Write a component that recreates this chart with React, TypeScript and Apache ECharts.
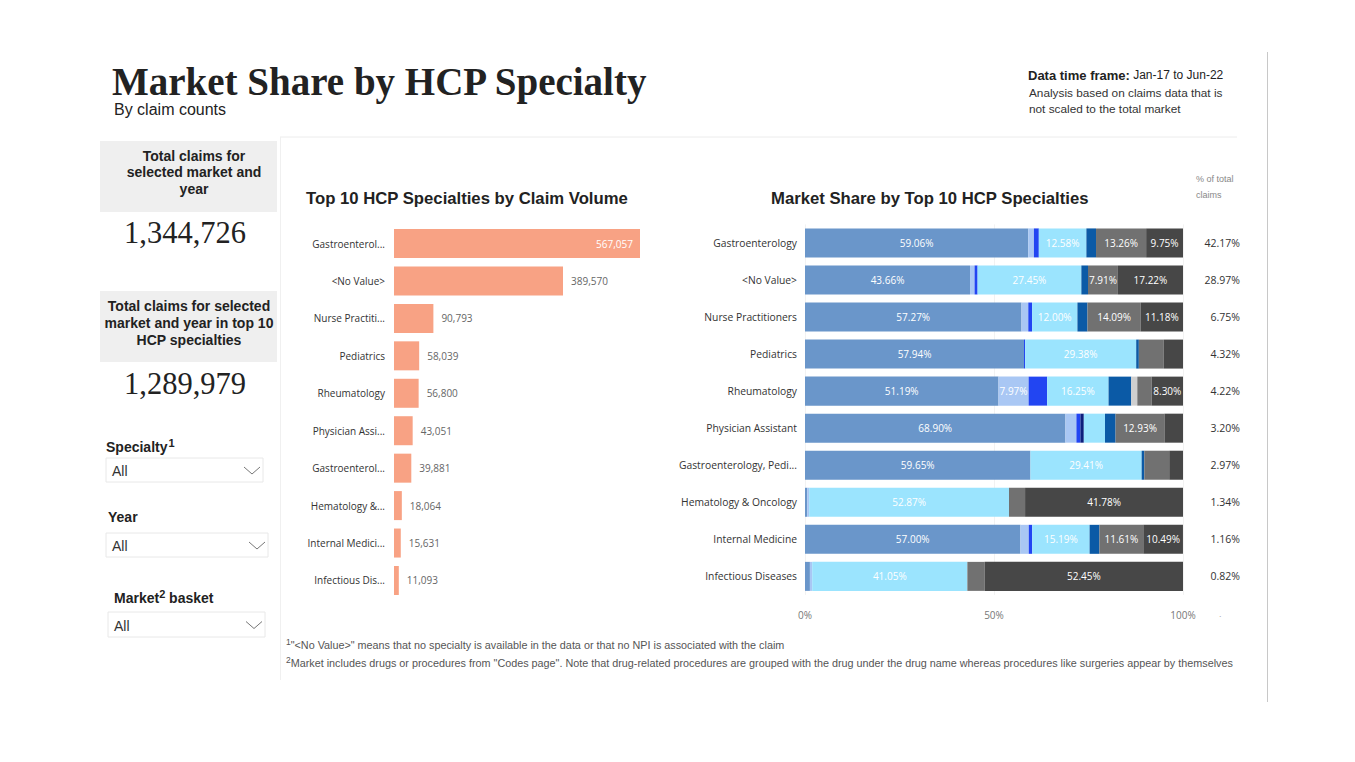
import React, { useEffect, useRef } from "react";
import * as echarts from "echarts";

const categories = [
  "Gastroenterology",
  "<No Value>",
  "Nurse Practitioners",
  "Pediatrics",
  "Rheumatology",
  "Physician Assistant",
  "Gastroenterology, Pedi...",
  "Hematology & Oncology",
  "Internal Medicine",
  "Infectious Diseases",
];
const shortLabels = [
  "Gastroenterol...",
  "<No Value>",
  "Nurse Practiti...",
  "Pediatrics",
  "Rheumatology",
  "Physician Assi...",
  "Gastroenterol...",
  "Hematology &...",
  "Internal Medici...",
  "Infectious Dis...",
];
const claimVolume = [567057, 389570, 90793, 58039, 56800, 43051, 39881, 18064, 15631, 11093];
const pctOfTotal = ["42.17%", "28.97%", "6.75%", "4.32%", "4.22%", "3.20%", "2.97%", "1.34%", "1.16%", "0.82%"];

const seg1 = [59.06, 43.66, 57.27, 57.94, 51.19, 68.9, 59.65, 0.6, 57.0, 1.3];
const seg2 = [1.5, 1.2, 1.8, 0, 7.97, 2.9, 0, 0.5, 2.2, 0.6];
const seg3 = [1.3, 0.8, 1.0, 0.3, 4.9, 1.06, 0, 0, 0.9, 0];
const seg4 = [0, 0, 0, 0, 0, 0.9, 0, 0, 0, 0];
const seg5 = [12.58, 27.45, 12.0, 29.38, 16.25, 5.6, 29.41, 52.87, 15.19, 41.05];
const seg6 = [2.55, 1.76, 2.66, 0.7, 6.0, 2.8, 0.7, 0, 2.6, 0];
const seg7 = [0, 0, 0, 0, 1.6, 0, 0, 0, 0, 0];
const seg8 = [13.26, 7.91, 14.09, 6.6, 3.79, 12.93, 6.6, 4.25, 11.61, 4.6];
const seg9 = [9.75, 17.22, 11.18, 5.08, 8.3, 4.91, 3.64, 41.78, 10.49, 52.45];
const segments = [seg1, seg2, seg3, seg4, seg5, seg6, seg7, seg8, seg9];
const segColors = ["#6A96CA", "#A9C7F4", "#2245F2", "#0D1F7C", "#9BE4FE", "#0B5AA6", "#CFCFCF", "#717171", "#474747"];

const totalClaims = "1,344,726";
const top10Claims = "1,289,979";

const SANS = "'Liberation Sans', Arial, sans-serif";
const SERIF = "'Liberation Serif', 'DejaVu Serif', serif";

function txt(x: number, y: number, text: string, style: any = {}) {
  return {
    type: "text",
    x,
    y,
    silent: true,
    style: {
      text,
      fontFamily: SANS,
      fontSize: 12,
      fill: "#333",
      verticalAlign: "middle",
      ...style,
    },
  };
}

function dropdown(x: number, y: number, w: number, h: number) {
  return [
    { type: "rect", shape: { x, y, width: w, height: h }, style: { fill: "#fff", stroke: "#e8e8e8", lineWidth: 1 }, silent: true },
    txt(x + 6, y + h / 2 + 1, "All", { fontSize: 14, fill: "#333" }),
    {
      type: "polyline",
      shape: { points: [[x + w - 19, y + h / 2 - 3], [x + w - 11, y + h / 2 + 4], [x + w - 3, y + h / 2 - 3]] },
      style: { stroke: "#777", lineWidth: 1, fill: "none" },
      silent: true,
    },
  ];
}

export default function App() {
  const ref = useRef<HTMLDivElement>(null);
  useEffect(() => {
    if (!ref.current) return;
    const chart = echarts.init(ref.current, undefined, { renderer: "svg" });

    const graphic: any[] = [
      txt(112, 81, "Market Share by HCP Specialty", { fontFamily: SERIF, fontWeight: "bold", fontSize: 39, fill: "#222" }),
      txt(114, 109, "By claim counts", { fontSize: 16, fill: "#222" }),
      {
        type: "text",
        x: 1028,
        y: 75,
        silent: true,
        style: {
          text: "{b|Data time frame:} {n|Jan-17 to Jun-22}",
          verticalAlign: "middle",
          rich: {
            b: { fontFamily: SANS, fontWeight: "bold", fontSize: 13, fill: "#222" },
            n: { fontFamily: SANS, fontSize: 12, fill: "#222" },
          },
        },
      },
      txt(1029, 93, "Analysis based on claims data that is", { fontSize: 11.8, fill: "#333" }),
      txt(1029, 109, "not scaled to the total market", { fontSize: 11.8, fill: "#333" }),
      { type: "line", shape: { x1: 280, y1: 137, x2: 1237, y2: 137 }, style: { stroke: "#ececec", lineWidth: 1 }, silent: true },
      { type: "line", shape: { x1: 280.5, y1: 137, x2: 280.5, y2: 680 }, style: { stroke: "#f0f0f0", lineWidth: 1 }, silent: true },
      { type: "line", shape: { x1: 1267.5, y1: 52, x2: 1267.5, y2: 702 }, style: { stroke: "#c8c8c8", lineWidth: 1 }, silent: true },

      { type: "rect", shape: { x: 100, y: 141, width: 177, height: 71 }, style: { fill: "#efefef" }, silent: true },
      txt(194, 156, "Total claims for", { fontSize: 14, fontWeight: "bold", fill: "#222", align: "center" }),
      txt(194, 172, "selected market and", { fontSize: 14, fontWeight: "bold", fill: "#222", align: "center" }),
      txt(194, 189, "year", { fontSize: 14, fontWeight: "bold", fill: "#222", align: "center" }),
      txt(185, 233, totalClaims, { fontFamily: SERIF, fontSize: 30.5, fill: "#222", align: "center" }),

      { type: "rect", shape: { x: 100, y: 291, width: 177, height: 71 }, style: { fill: "#efefef" }, silent: true },
      txt(189, 306, "Total claims for selected", { fontSize: 14, fontWeight: "bold", fill: "#222", align: "center" }),
      txt(189, 323, "market and year in top 10", { fontSize: 14, fontWeight: "bold", fill: "#222", align: "center" }),
      txt(189, 340, "HCP specialties", { fontSize: 14, fontWeight: "bold", fill: "#222", align: "center" }),
      txt(185, 384, top10Claims, { fontFamily: SERIF, fontSize: 30.5, fill: "#222", align: "center" }),

      {
        type: "text",
        x: 106,
        y: 447,
        silent: true,
        style: {
          text: "{b|Specialty}{s|1}",
          verticalAlign: "middle",
          rich: {
            b: { fontFamily: SANS, fontWeight: "bold", fontSize: 14, fill: "#222" },
            s: { fontFamily: SANS, fontWeight: "bold", fontSize: 11, fill: "#222", verticalAlign: "top", padding: [0, 0, 8, 1] },
          },
        },
      },
      ...dropdown(106, 458, 157, 24),
      txt(108, 517, "Year", { fontSize: 14, fontWeight: "bold", fill: "#222" }),
      ...dropdown(106, 533, 162, 24),
      {
        type: "text",
        x: 114,
        y: 598,
        silent: true,
        style: {
          text: "{b|Market}{s|2}{b| basket}",
          verticalAlign: "middle",
          rich: {
            b: { fontFamily: SANS, fontWeight: "bold", fontSize: 14, fill: "#222" },
            s: { fontFamily: SANS, fontWeight: "bold", fontSize: 11, fill: "#222", padding: [0, 0, 8, 0] },
          },
        },
      },
      ...dropdown(108, 612, 157, 25),

      txt(306, 198, "Top 10 HCP Specialties by Claim Volume", { fontSize: 16.7, fontWeight: "bold", fill: "#222" }),
      txt(771, 198, "Market Share by Top 10 HCP Specialties", { fontSize: 16.7, fontWeight: "bold", fill: "#222" }),
      txt(1196, 179, "% of total", { fontSize: 9, fill: "#888" }),
      txt(1196, 195, "claims", { fontSize: 9, fill: "#888" }),
      txt(1219, 614, ".", { fontSize: 9, fill: "#aaa" }),

      {
        type: "text",
        x: 286,
        y: 645,
        silent: true,
        style: {
          text: '{s|1}{n|"<No Value>" means that no specialty is available in the data or that no NPI is associated with the claim}',
          verticalAlign: "middle",
          rich: {
            s: { fontFamily: SANS, fontSize: 8.5, fill: "#555", padding: [0, 0, 6, 0] },
            n: { fontFamily: SANS, fontSize: 10.8, fill: "#555" },
          },
        },
      },
      {
        type: "text",
        x: 286,
        y: 663,
        silent: true,
        style: {
          text:
            '{s|2}{n|Market includes drugs or procedures from "Codes page". Note that drug-related procedures are grouped with the drug under the drug name whereas procedures like surgeries appear by themselves}',
          verticalAlign: "middle",
          rich: {
            s: { fontFamily: SANS, fontSize: 8.5, fill: "#555", padding: [0, 0, 6, 0] },
            n: { fontFamily: SANS, fontSize: 10.8, fill: "#555" },
          },
        },
      },
    ];

    const stackSeries = segments.map((seg, i) => ({
      name: "Segment " + (i + 1),
      type: "bar",
      xAxisIndex: 1,
      yAxisIndex: 1,
      stack: "share",
      barCategoryGap: "21.7%",
      data: seg,
      itemStyle: { color: segColors[i] },
      label: {
        show: true,
        position: "inside",
        color: "#fff",
        fontFamily: "'Open Sans', sans-serif",
        fontSize: 10,
        formatter: (p: any) => (p.value >= 7 ? p.value.toFixed(2) + "%" : ""),
      },
    }));

    chart.setOption({
      animation: false,
      backgroundColor: "#fff",
      graphic,
      grid: [
        { left: 394, top: 224.8, width: 246, height: 374.4, containLabel: false },
        { left: 805, top: 224.4, width: 378, height: 370.5, containLabel: false },
      ],
      xAxis: [
        { gridIndex: 0, type: "value", min: 0, max: 567057, show: false },
        {
          gridIndex: 1,
          type: "value",
          min: 0,
          max: 100,
          interval: 50,
          axisLine: { show: false },
          axisTick: { show: false },
          splitLine: { show: true, lineStyle: { color: "#f2f2f2" } },
          axisLabel: { formatter: "{value}%", color: "#777", fontSize: 10, fontFamily: "'Open Sans', sans-serif", margin: 15 },
        },
      ],
      yAxis: [
        {
          gridIndex: 0,
          type: "category",
          inverse: true,
          data: shortLabels,
          axisLine: { show: false },
          axisTick: { show: false },
          axisLabel: { color: "#333", fontSize: 10, fontFamily: "'Open Sans', sans-serif", margin: 9 },
        },
        {
          gridIndex: 1,
          type: "category",
          inverse: true,
          data: categories,
          axisLine: { show: false },
          axisTick: { show: false },
          axisLabel: { color: "#333", fontSize: 10.3, fontFamily: "'Open Sans', sans-serif", margin: 8 },
        },
        {
          gridIndex: 1,
          type: "category",
          inverse: true,
          position: "right",
          data: pctOfTotal,
          axisLine: { show: false },
          axisTick: { show: false },
          axisLabel: { color: "#333", fontSize: 10.5, fontFamily: "'Open Sans', sans-serif", margin: 57, align: "right" },
        },
      ],
      series: [
        {
          name: "Claim Volume",
          type: "bar",
          xAxisIndex: 0,
          yAxisIndex: 0,
          barCategoryGap: "22.5%",
          data: claimVolume.map((v, i) => ({
            value: v,
            label:
              i === 0
                ? { position: "insideRight", color: "#fff", distance: 7 }
                : { position: "right", color: "#666", distance: 8 },
          })),
          itemStyle: { color: "#F8A284" },
          label: {
            show: true,
            fontSize: 10,
            fontFamily: "'Open Sans', sans-serif",
            formatter: (p: any) => Number(p.value).toLocaleString("en-US"),
          },
        },
        ...stackSeries,
      ],
    });
    return () => chart.dispose();
  }, []);
  return <div ref={ref} style={{ position: "fixed", left: 0, top: 0, width: 1355, height: 762 }} />;
}
